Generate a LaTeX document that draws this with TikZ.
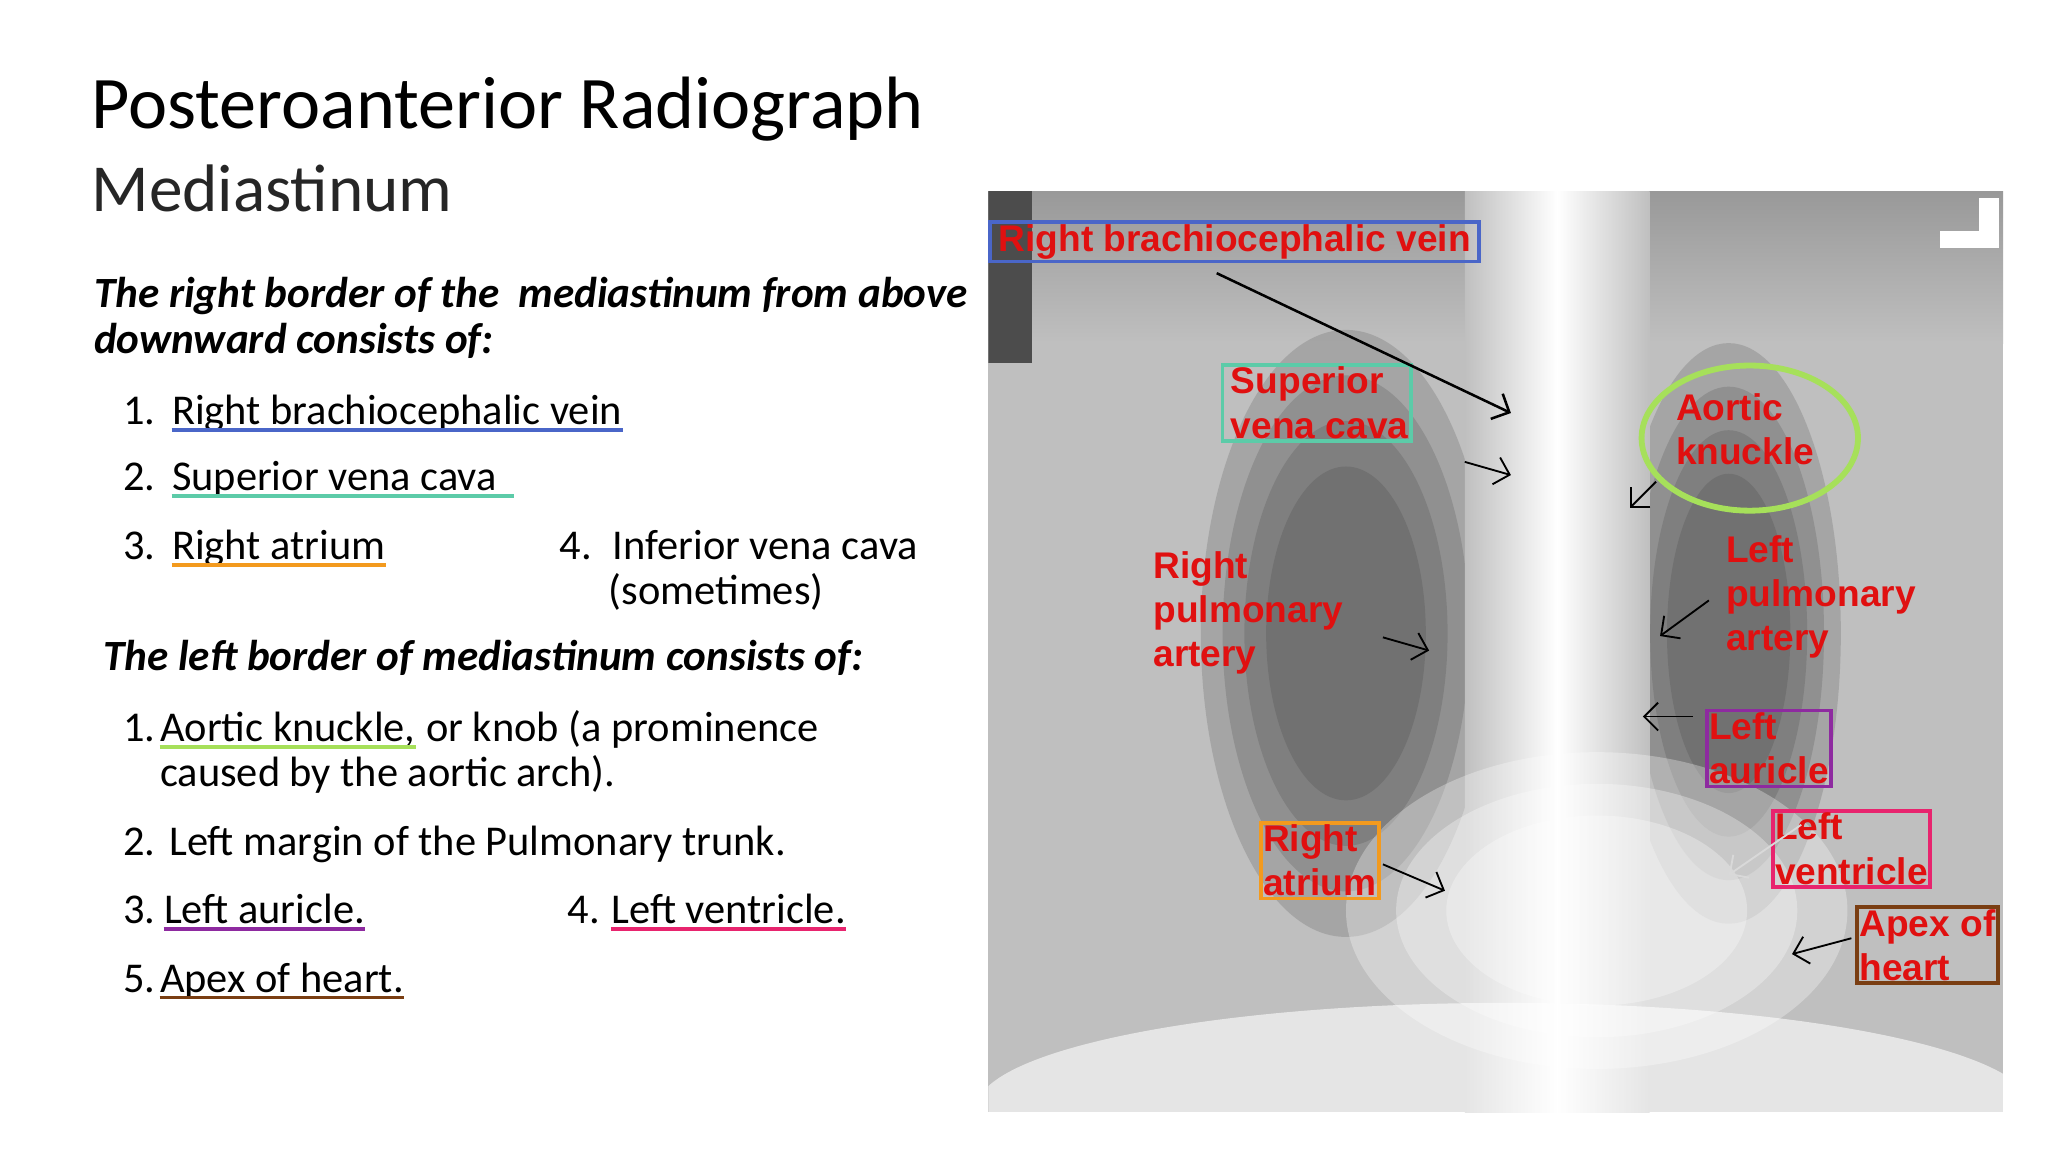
\documentclass[tikz,border=0pt]{standalone}
\usepackage{fontspec}
\setmainfont{Carlito}
\newfontfamily\lab{Liberation Sans}
\usetikzlibrary{calc,arrows.meta}
\definecolor{rblue}{HTML}{4A66C8}
\definecolor{rteal}{HTML}{5CCBA8}
\definecolor{rorange}{HTML}{F39A1E}
\definecolor{rgreen}{HTML}{A6E05A}
\definecolor{rpurple}{HTML}{8E2AA0}
\definecolor{rpink}{HTML}{E8246E}
\definecolor{rbrown}{HTML}{7A3E12}
\definecolor{rred}{HTML}{E01010}
\tikzset{
 tx/.style={anchor=base west,inner sep=0pt,font=\fontsize{18.3}{21}\selectfont},
 hd/.style={anchor=base west,inner sep=0pt,font=\fontsize{18.6}{21}\selectfont\bfseries\itshape},
 rl/.style={anchor=north west,inner sep=1pt,align=left,text=rred,font=\lab\bfseries\fontsize{16}{19}\selectfont},
 bx/.style={draw,line width=1.6pt},
 ar/.style={-{Straight Barb[length=6pt]},line width=0.8pt},
}
\begin{document}
\begin{tikzpicture}[x=0.02cm,y=-0.02cm]
\useasboundingbox (0,0) rectangle (1552,873);
\fill[white] (0,0) rectangle (1552,873);
% title
\node[anchor=base west,inner sep=0pt,font=\fontsize{32}{36}\selectfont] (title) at (69,97) {Posteroanterior Radiograph};
\node[anchor=base west,inner sep=0pt,font=\fontsize{29}{32}\selectfont,text=black!85] (sub) at (69,160) {Mediastinum};
% left text
\node[hd] (h1a) at (71,233) {The right border of the\ \ mediastinum from above};
\node[hd] (h1b) at (71,268) {downward consists of:};
\node[tx] (n1) at (93,322) {1.};
\node[tx] (t1) at (130,322) {Right brachiocephalic vein};
\node[tx] (n2) at (93,372) {2.};
\node[tx] (t2) at (130,372) {Superior vena cava\ \,};
\node[tx] (n3) at (93,424) {3.};
\node[tx] (t3) at (130,424) {Right atrium};
\node[tx] (n4) at (424,424) {4.};
\node[tx] (t4) at (464,424) {Inferior vena cava};
\node[tx] (t4b) at (461,458) {(sometimes)};
\node[hd] (h2) at (78,508) {The left border of mediastinum consists of:};
\node[tx] (m1) at (93,562) {1.};
\node[tx] (u1) at (121,562) {Aortic knuckle,};
\node[tx,anchor=base west] (u1b) at (u1.base east) {\ or knob (a prominence};
\node[tx] (u1c) at (121,596) {caused by the aortic arch).};
\node[tx] (m2) at (93,648) {2.};
\node[tx] (u2) at (128,648) {Left margin of the Pulmonary trunk.};
\node[tx] (m3) at (93,700) {3.};
\node[tx] (u3) at (124,700) {Left auricle.};
\node[tx] (m4) at (430,700) {4.};
\node[tx] (u4) at (463,700) {Left ventricle.};
\node[tx] (m5) at (93,752) {5.};
\node[tx] (u5) at (121,752) {Apex of heart.};
\foreach \n/\c in {t1/rblue,t2/rteal,t3/rorange,u1/rgreen,u3/rpurple,u4/rpink,u5/rbrown}
  \draw[\c,line width=1.6pt] ($(\n.base west)+(0,4)$) -- ($(\n.base east)+(0,4)$);
% x-ray
\fill[gray!50] (749,145) rectangle (1518,843);
\begin{scope}
\clip (749,145) rectangle (1518,843);
\shade[top color=gray!80,bottom color=gray!50] (749,145) rectangle (1518,260);
\fill[black!70] (749,145) rectangle (782,275);
\foreach \s in {1.0,0.85,0.7,0.55}{
 \fill[black!80,opacity=0.18] (1020,480) ellipse ({110*\s} and {230*\s});
 \fill[black!80,opacity=0.18] (1310,480) ellipse ({85*\s} and {220*\s});}
\shade[left color=gray!50,right color=gray!50,middle color=white] (1110,145) rectangle (1250,843);
\foreach \s in {1.0,0.8,0.6}{
 \fill[white,opacity=0.3] (1210,690) ellipse ({190*\s} and {120*\s});}
\fill[white,opacity=0.6] (1140,840) ellipse (400 and 80);
\fill[white] (1470,175) rectangle (1515,188);
\fill[white] (1500,150) rectangle (1515,188);
\end{scope}
% labels
\node[rl,bx,draw=rblue] (rbv) at (749,167) {\,Right brachiocephalic vein\,};
\node[rl,bx,draw=rteal] (svc) at (925,275) {\,Superior\\\,vena cava};
\node[rl] (ak) at (1268,296) {Aortic\\knuckle};
\draw[rgreen,line width=2.5pt] (1326,332) ellipse (82 and 55);
\node[rl] (rpa) at (872,416) {Right\\pulmonary\\artery};
\node[rl] (lpa) at (1306,404) {Left\\pulmonary\\artery};
\node[rl,bx,draw=rpurple] (la) at (1292,537) {Left\\auricle};
\node[rl,bx,draw=rpink] (lv) at (1342,613) {Left\\ventricle};
\node[rl,bx,draw=rbrown] (apx) at (1406,686) {Apex of\\heart};
\node[rl,bx,draw=rorange] (ra) at (954,622) {Right\\atrium};
% arrows
\coordinate (a0) at (922,207); \coordinate (a1) at (1145,313); \draw[ar,line width=1.1pt] (a0) -- (a1);
\coordinate (s1) at (1110,350); \coordinate (s2) at (1145,360); \draw[ar] (s1) -- (s2);
\coordinate (k1) at (1255,365); \coordinate (k2) at (1235,385); \draw[ar] (k1) -- (k2);
\coordinate (p1) at (1048,483); \coordinate (p2) at (1083,493); \draw[ar] (p1) -- (p2);
\coordinate (q1) at (1295,455); \coordinate (q2) at (1258,482); \draw[ar] (q1) -- (q2);
\coordinate (l1) at (1283,543); \coordinate (l2) at (1245,543); \draw[ar] (l1) -- (l2);
\coordinate (v1) at (1365,625); \coordinate (v2) at (1310,663); \draw[ar,white!70!gray] (v1) -- (v2);
\coordinate (x1) at (1403,711); \coordinate (x2) at (1358,723); \draw[ar] (x1) -- (x2);
\coordinate (r1) at (1048,655); \coordinate (r2) at (1095,675); \draw[ar] (r1) -- (r2);
\end{tikzpicture}
\end{document}
